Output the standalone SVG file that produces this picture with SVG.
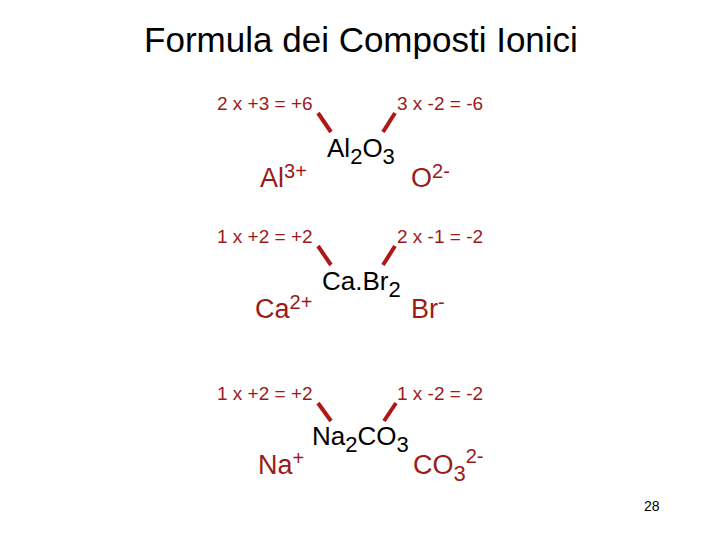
<svg xmlns="http://www.w3.org/2000/svg" width="720" height="540" viewBox="0 0 720 540">
<style>
text{font-family:"Liberation Sans",Arial,sans-serif}
.t{font-size:35px;fill:#000}
.l{font-size:19px;fill:#9b1b1b}
.f{font-size:26px;fill:#000}
.i{font-size:27px;fill:#9b1b1b}
.c line{stroke:#b01818;stroke-width:4}
</style>
<rect width="720" height="540" fill="#fff"/>
<text class="t" x="361" y="52" text-anchor="middle">Formula dei Composti Ionici</text>
<g class="c">
<line x1="318" y1="113" x2="331" y2="132"/><line x1="395" y1="113" x2="383" y2="132"/>
<line x1="318" y1="246" x2="331" y2="265"/><line x1="395" y1="246" x2="383" y2="265"/>
<line x1="318" y1="403" x2="331" y2="421"/><line x1="396" y1="403" x2="384" y2="421"/>
</g>
<g id="al"><text class="l" x="217" y="110">2 x +3 = +6</text><text class="l" x="397" y="110">3 x -2 = -6</text>
<text class="f" x="327" y="157">Al<tspan dy="7" font-size="22">2</tspan><tspan dy="-7">O</tspan><tspan dy="7" font-size="22">3</tspan></text>
<text class="i" x="260" y="187">Al<tspan dy="-9" font-size="20">3+</tspan></text>
<text class="i" x="411" y="187">O<tspan dy="-9" font-size="20">2-</tspan></text></g>
<g id="ca"><text class="l" x="217" y="243">1 x +2 = +2</text><text class="l" x="397" y="243">2 x -1 = -2</text>
<text class="f" x="322" y="290">Ca.Br<tspan dy="7" font-size="22">2</tspan></text>
<text class="i" x="255" y="318">Ca<tspan dy="-9" font-size="20">2+</tspan></text>
<text class="i" x="411" y="318">Br<tspan dy="-9" font-size="20">-</tspan></text></g>
<g id="na"><text class="l" x="217" y="400">1 x +2 = +2</text><text class="l" x="397" y="400">1 x -2 = -2</text>
<text class="f" x="312" y="445">Na<tspan dy="7" font-size="22">2</tspan><tspan dy="-7">CO</tspan><tspan dy="7" font-size="22">3</tspan></text>
<text class="i" x="258" y="474">Na<tspan dy="-9" font-size="20">+</tspan></text>
<text class="i" x="413" y="474">CO<tspan dy="7" font-size="22">3</tspan><tspan dy="-18" font-size="20">2-</tspan></text></g>
<text x="644" y="511" font-family="Liberation Serif,serif" font-size="14">28</text>
</svg>
